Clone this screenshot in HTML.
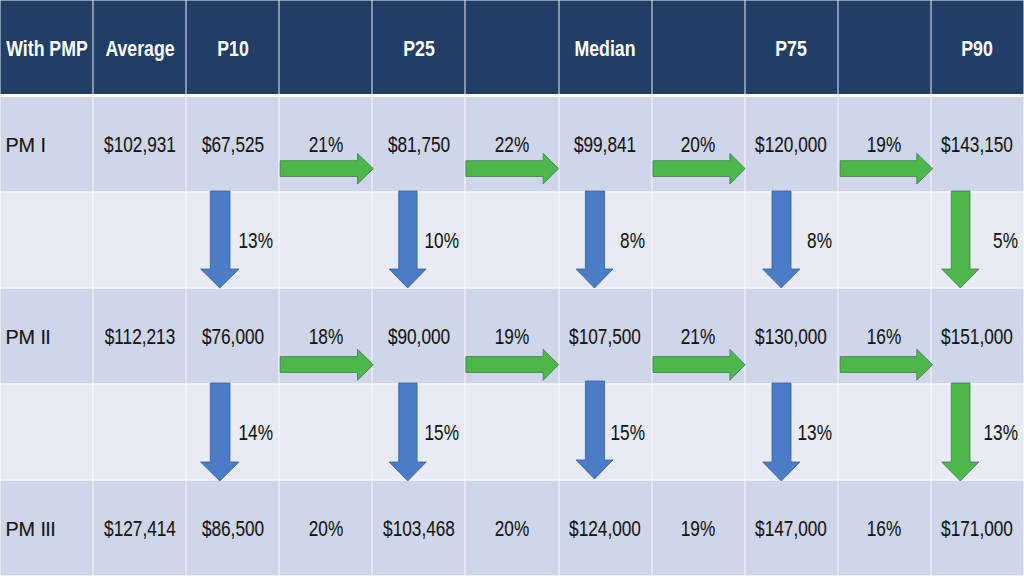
<!DOCTYPE html>
<html><head><meta charset="utf-8"><style>
html,body{margin:0;padding:0;}
body{width:1024px;height:576px;position:relative;overflow:hidden;background:#fff;font-family:"Liberation Sans",sans-serif;}
.bg{position:absolute;}
.vl{position:absolute;top:0;width:2px;height:576px;background:rgba(255,255,255,0.45);}
.t{position:absolute;white-space:nowrap;line-height:0;height:0;}
.t span{display:inline-block;}
.hd{color:#fff;font-weight:bold;font-size:22px;transform:translateX(-50%) scaleX(0.805);}
.nm{color:#141414;font-size:21.4px;-webkit-text-stroke:0.1px #141414;transform:translateX(-50%) scaleX(0.805);}
.nm.rt{transform:translateX(-100%) scaleX(0.805);transform-origin:100% 0;}
.pm{position:absolute;white-space:nowrap;line-height:0;height:0;color:#141414;font-size:19.8px;-webkit-text-stroke:0.15px #141414;}
.ii{letter-spacing:-0.7px;}
svg{position:absolute;left:0;top:0;}
</style></head><body>
<div class="bg" style="left:0;top:0;width:1024px;height:94px;background:#223E67"></div><div class="bg" style="left:0;top:94px;width:1024px;height:482px;background:#EEF1FA"></div><div class="bg" style="left:0;top:94px;width:1024px;height:3px;background:#FFFFFF"></div><div class="bg" style="left:0;top:97px;width:1024px;height:94px;background:#D0D6E9"></div><div class="bg" style="left:0;top:193px;width:1024px;height:94px;background:#E8EBF4"></div><div class="bg" style="left:0;top:289px;width:1024px;height:94px;background:#D0D6E9"></div><div class="bg" style="left:0;top:385px;width:1024px;height:94px;background:#E8EBF4"></div><div class="bg" style="left:0;top:481px;width:1024px;height:94px;background:#D0D6E9"></div><div class="bg" style="left:0;top:0;width:1024px;height:1px;background:rgba(255,255,255,0.45)"></div><div class="bg" style="left:0;top:0;width:1px;height:576px;background:rgba(255,255,255,0.45)"></div><div class="bg" style="left:1023px;top:0;width:1px;height:576px;background:rgba(255,255,255,0.5)"></div><div class="vl" style="left:92.09px"></div><div class="vl" style="left:185.18px"></div><div class="vl" style="left:278.27px"></div><div class="vl" style="left:371.36px"></div><div class="vl" style="left:464.45px"></div><div class="vl" style="left:557.55px"></div><div class="vl" style="left:650.64px"></div><div class="vl" style="left:743.73px"></div><div class="vl" style="left:836.82px"></div><div class="vl" style="left:929.91px"></div><div class="t hd" style="left:46.55px;top:49.18px">With PMP</div><div class="t hd" style="left:139.64px;top:49.18px">Average</div><div class="t hd" style="left:232.73px;top:49.18px">P10</div><div class="t hd" style="left:418.91px;top:49.18px">P25</div><div class="t hd" style="left:605.09px;top:49.18px">Median</div><div class="t hd" style="left:791.27px;top:49.18px">P75</div><div class="t hd" style="left:977.45px;top:49.18px">P90</div><div class="pm" style="left:5.4px;top:145.34px">PM <span class="ii">I</span></div><div class="t nm" style="left:139.64px;top:144.78px">$102,931</div><div class="t nm" style="left:232.73px;top:144.78px">$67,525</div><div class="t nm" style="left:325.82px;top:144.78px">21%</div><div class="t nm" style="left:418.91px;top:144.78px">$81,750</div><div class="t nm" style="left:512.00px;top:144.78px">22%</div><div class="t nm" style="left:605.09px;top:144.78px">$99,841</div><div class="t nm" style="left:698.18px;top:144.78px">20%</div><div class="t nm" style="left:791.27px;top:144.78px">$120,000</div><div class="t nm" style="left:884.36px;top:144.78px">19%</div><div class="t nm" style="left:977.45px;top:144.78px">$143,150</div><div class="pm" style="left:5.4px;top:337.24px">PM <span class="ii">II</span></div><div class="t nm" style="left:139.64px;top:336.68px">$112,213</div><div class="t nm" style="left:232.73px;top:336.68px">$76,000</div><div class="t nm" style="left:325.82px;top:336.68px">18%</div><div class="t nm" style="left:418.91px;top:336.68px">$90,000</div><div class="t nm" style="left:512.00px;top:336.68px">19%</div><div class="t nm" style="left:605.09px;top:336.68px">$107,500</div><div class="t nm" style="left:698.18px;top:336.68px">21%</div><div class="t nm" style="left:791.27px;top:336.68px">$130,000</div><div class="t nm" style="left:884.36px;top:336.68px">16%</div><div class="t nm" style="left:977.45px;top:336.68px">$151,000</div><div class="pm" style="left:5.4px;top:529.24px">PM <span class="ii">III</span></div><div class="t nm" style="left:139.64px;top:528.68px">$127,414</div><div class="t nm" style="left:232.73px;top:528.68px">$86,500</div><div class="t nm" style="left:325.82px;top:528.68px">20%</div><div class="t nm" style="left:418.91px;top:528.68px">$103,468</div><div class="t nm" style="left:512.00px;top:528.68px">20%</div><div class="t nm" style="left:605.09px;top:528.68px">$124,000</div><div class="t nm" style="left:698.18px;top:528.68px">19%</div><div class="t nm" style="left:791.27px;top:528.68px">$147,000</div><div class="t nm" style="left:884.36px;top:528.68px">16%</div><div class="t nm" style="left:977.45px;top:528.68px">$171,000</div><div class="t nm rt" style="left:272.97px;top:240.78px">13%</div><div class="t nm rt" style="left:459.15px;top:240.78px">10%</div><div class="t nm rt" style="left:645.34px;top:240.78px">8%</div><div class="t nm rt" style="left:831.52px;top:240.78px">8%</div><div class="t nm rt" style="left:1017.70px;top:240.78px">5%</div><div class="t nm rt" style="left:272.97px;top:433.18px">14%</div><div class="t nm rt" style="left:459.15px;top:433.18px">15%</div><div class="t nm rt" style="left:645.34px;top:433.18px">15%</div><div class="t nm rt" style="left:831.52px;top:433.18px">13%</div><div class="t nm rt" style="left:1017.70px;top:433.18px">13%</div>
<svg width="1024" height="576" viewBox="0 0 1024 576"><path d="M280.2,160.7 L357.5,160.7 L357.5,153.4 L373.3,168.7 L357.5,184 L357.5,176.5 L280.2,176.5 Z" fill="#4DB74B" stroke="#3E7A58" stroke-width="0.8"/><path d="M280.2,356.6 L357.5,356.6 L357.5,349.3 L373.3,364.8 L357.5,380.3 L357.5,372.4 L280.2,372.4 Z" fill="#4DB74B" stroke="#3E7A58" stroke-width="0.8"/><path d="M465.9,160.7 L543.2,160.7 L543.2,153.4 L558.6,168.7 L543.2,184 L543.2,176.5 L465.9,176.5 Z" fill="#4DB74B" stroke="#3E7A58" stroke-width="0.8"/><path d="M465.9,356.6 L543.2,356.6 L543.2,349.3 L558.6,364.8 L543.2,380.3 L543.2,372.4 L465.9,372.4 Z" fill="#4DB74B" stroke="#3E7A58" stroke-width="0.8"/><path d="M653,160.7 L729.9,160.7 L729.9,153.4 L745.1,168.7 L729.9,184 L729.9,176.5 L653,176.5 Z" fill="#4DB74B" stroke="#3E7A58" stroke-width="0.8"/><path d="M653,356.6 L729.9,356.6 L729.9,349.3 L745.1,364.8 L729.9,380.3 L729.9,372.4 L653,372.4 Z" fill="#4DB74B" stroke="#3E7A58" stroke-width="0.8"/><path d="M840.2,160.7 L916.8,160.7 L916.8,153.4 L932.6,168.7 L916.8,184 L916.8,176.5 L840.2,176.5 Z" fill="#4DB74B" stroke="#3E7A58" stroke-width="0.8"/><path d="M840.2,356.6 L916.8,356.6 L916.8,349.3 L932.6,364.8 L916.8,380.3 L916.8,372.4 L840.2,372.4 Z" fill="#4DB74B" stroke="#3E7A58" stroke-width="0.8"/><path d="M210.3,191 L230.0,191 L230.0,269 L239.0,269 L219.8,288 L200.6,269 L210.3,269 Z" fill="#4B7CC5" stroke="#3A619E" stroke-width="0.8"/><path d="M210.3,383 L230.0,383 L230.0,462 L239.0,462 L219.8,481 L200.6,462 L210.3,462 Z" fill="#4B7CC5" stroke="#3A619E" stroke-width="0.8"/><path d="M398.7,191 L417.1,191 L417.1,269 L426.2,269 L407.65,288 L389.1,269 L398.7,269 Z" fill="#4B7CC5" stroke="#3A619E" stroke-width="0.8"/><path d="M398.7,383 L417.1,383 L417.1,462 L426.2,462 L407.65,481 L389.1,462 L398.7,462 Z" fill="#4B7CC5" stroke="#3A619E" stroke-width="0.8"/><path d="M585.4,191 L604.6,191 L604.6,269 L613,269 L594.5,288 L576,269 L585.4,269 Z" fill="#4B7CC5" stroke="#3A619E" stroke-width="0.8"/><path d="M585.4,381 L604.6,381 L604.6,460 L613,460 L594.5,479 L576,460 L585.4,460 Z" fill="#4B7CC5" stroke="#3A619E" stroke-width="0.8"/><path d="M772,191 L791,191 L791,269 L800,269 L781.3,288 L762.6,269 L772,269 Z" fill="#4B7CC5" stroke="#3A619E" stroke-width="0.8"/><path d="M772,383 L791,383 L791,462 L800,462 L781.3,481 L762.6,462 L772,462 Z" fill="#4B7CC5" stroke="#3A619E" stroke-width="0.8"/><path d="M951.3,191 L970,191 L970,269 L979,269 L960.35,288 L941.7,269 L951.3,269 Z" fill="#4DB74B" stroke="#3E7A58" stroke-width="0.8"/><path d="M951.3,383 L970,383 L970,462 L979,462 L960.35,481 L941.7,462 L951.3,462 Z" fill="#4DB74B" stroke="#3E7A58" stroke-width="0.8"/></svg>
</body></html>
